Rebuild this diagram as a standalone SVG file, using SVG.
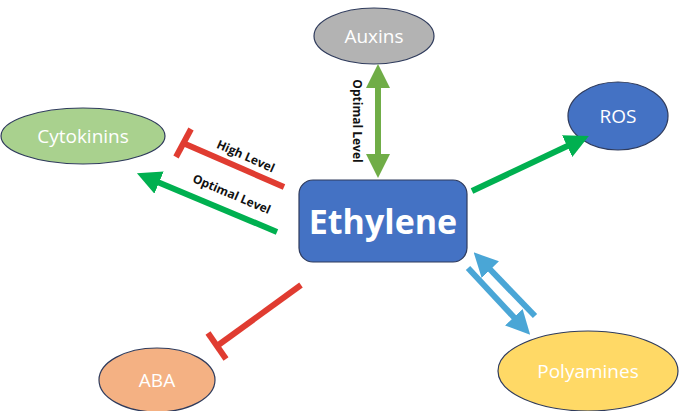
<svg xmlns="http://www.w3.org/2000/svg" width="685" height="411" viewBox="0 0 685 411">
<defs>
<style>
.n{stroke:#2f3b5c;stroke-width:1.2}
.t{font-family:"Open Sans","Liberation Sans",sans-serif;font-size:19px;fill:#fff;text-anchor:middle;dominant-baseline:central}
.l{font-family:"Open Sans","Liberation Sans",sans-serif;font-size:12px;font-weight:bold;fill:#111;text-anchor:middle}
</style>
<marker id="ag" markerWidth="4" markerHeight="4" refX="2" refY="2" orient="auto-start-reverse" markerUnits="strokeWidth"><path d="M0,0L4,2L0,4Z" fill="#70ad47"/></marker>
<marker id="ag2" markerWidth="4" markerHeight="4" refX="2" refY="2" orient="auto" markerUnits="strokeWidth"><path d="M0,0L4,2L0,4Z" fill="#00b050"/></marker>
<marker id="ab" markerWidth="4" markerHeight="4" refX="2" refY="2" orient="auto" markerUnits="strokeWidth"><path d="M0,0L4,2L0,4Z" fill="#4aa6d6"/></marker>
</defs>
<g id="auxins"><ellipse class="n" cx="374" cy="36" rx="60" ry="28" fill="#b3b3b3"/><text class="t" x="374" y="36">Auxins</text></g>
<g id="cytokinins"><ellipse class="n" cx="83" cy="136" rx="82" ry="28" fill="#a9d18e"/><text class="t" x="83" y="136">Cytokinins</text></g>
<g id="ros"><ellipse class="n" cx="618" cy="116" rx="50" ry="34" fill="#4472c4"/><text class="t" x="618" y="116">ROS</text></g>
<g id="aba"><ellipse class="n" cx="157" cy="380" rx="58" ry="32" fill="#f4b183"/><text class="t" x="157" y="380">ABA</text></g>
<g id="polyamines"><ellipse class="n" cx="588" cy="371" rx="90" ry="40" fill="#ffd966"/><text class="t" x="588" y="371">Polyamines</text></g>
<g id="ethylene"><rect class="n" x="299" y="180" width="168" height="82" rx="14" fill="#4472c4"/><text class="t" x="383" y="221" style="font-size:34px;font-weight:bold">Ethylene</text></g>
<g id="connectors" fill="none" stroke-width="6">
<line x1="378" y1="76" x2="378" y2="166" stroke="#70ad47" marker-start="url(#ag)" marker-end="url(#ag)"/>
<line x1="284" y1="187" x2="183" y2="143" stroke="#e03c31"/>
<line x1="176" y1="157" x2="191" y2="129" stroke="#e03c31"/>
<line x1="277" y1="232" x2="148" y2="178" stroke="#00b050" marker-end="url(#ag2)"/>
<line x1="472" y1="191" x2="578" y2="141" stroke="#00b050" marker-end="url(#ag2)"/>
<line x1="301" y1="285" x2="217" y2="346" stroke="#e03c31"/>
<line x1="208" y1="333" x2="226" y2="359" stroke="#e03c31"/>
<line x1="468" y1="268" x2="522" y2="326" stroke="#4aa6d6" marker-end="url(#ab)"/>
<line x1="535" y1="316" x2="482" y2="261" stroke="#4aa6d6" marker-end="url(#ab)"/>
</g>
<g id="labels">
<text class="l" transform="translate(353,121) rotate(90)">Optimal Level</text>
<text class="l" transform="translate(244,160) rotate(24)">High Level</text>
<text class="l" transform="translate(230,198) rotate(23)">Optimal Level</text>
</g>
</svg>
